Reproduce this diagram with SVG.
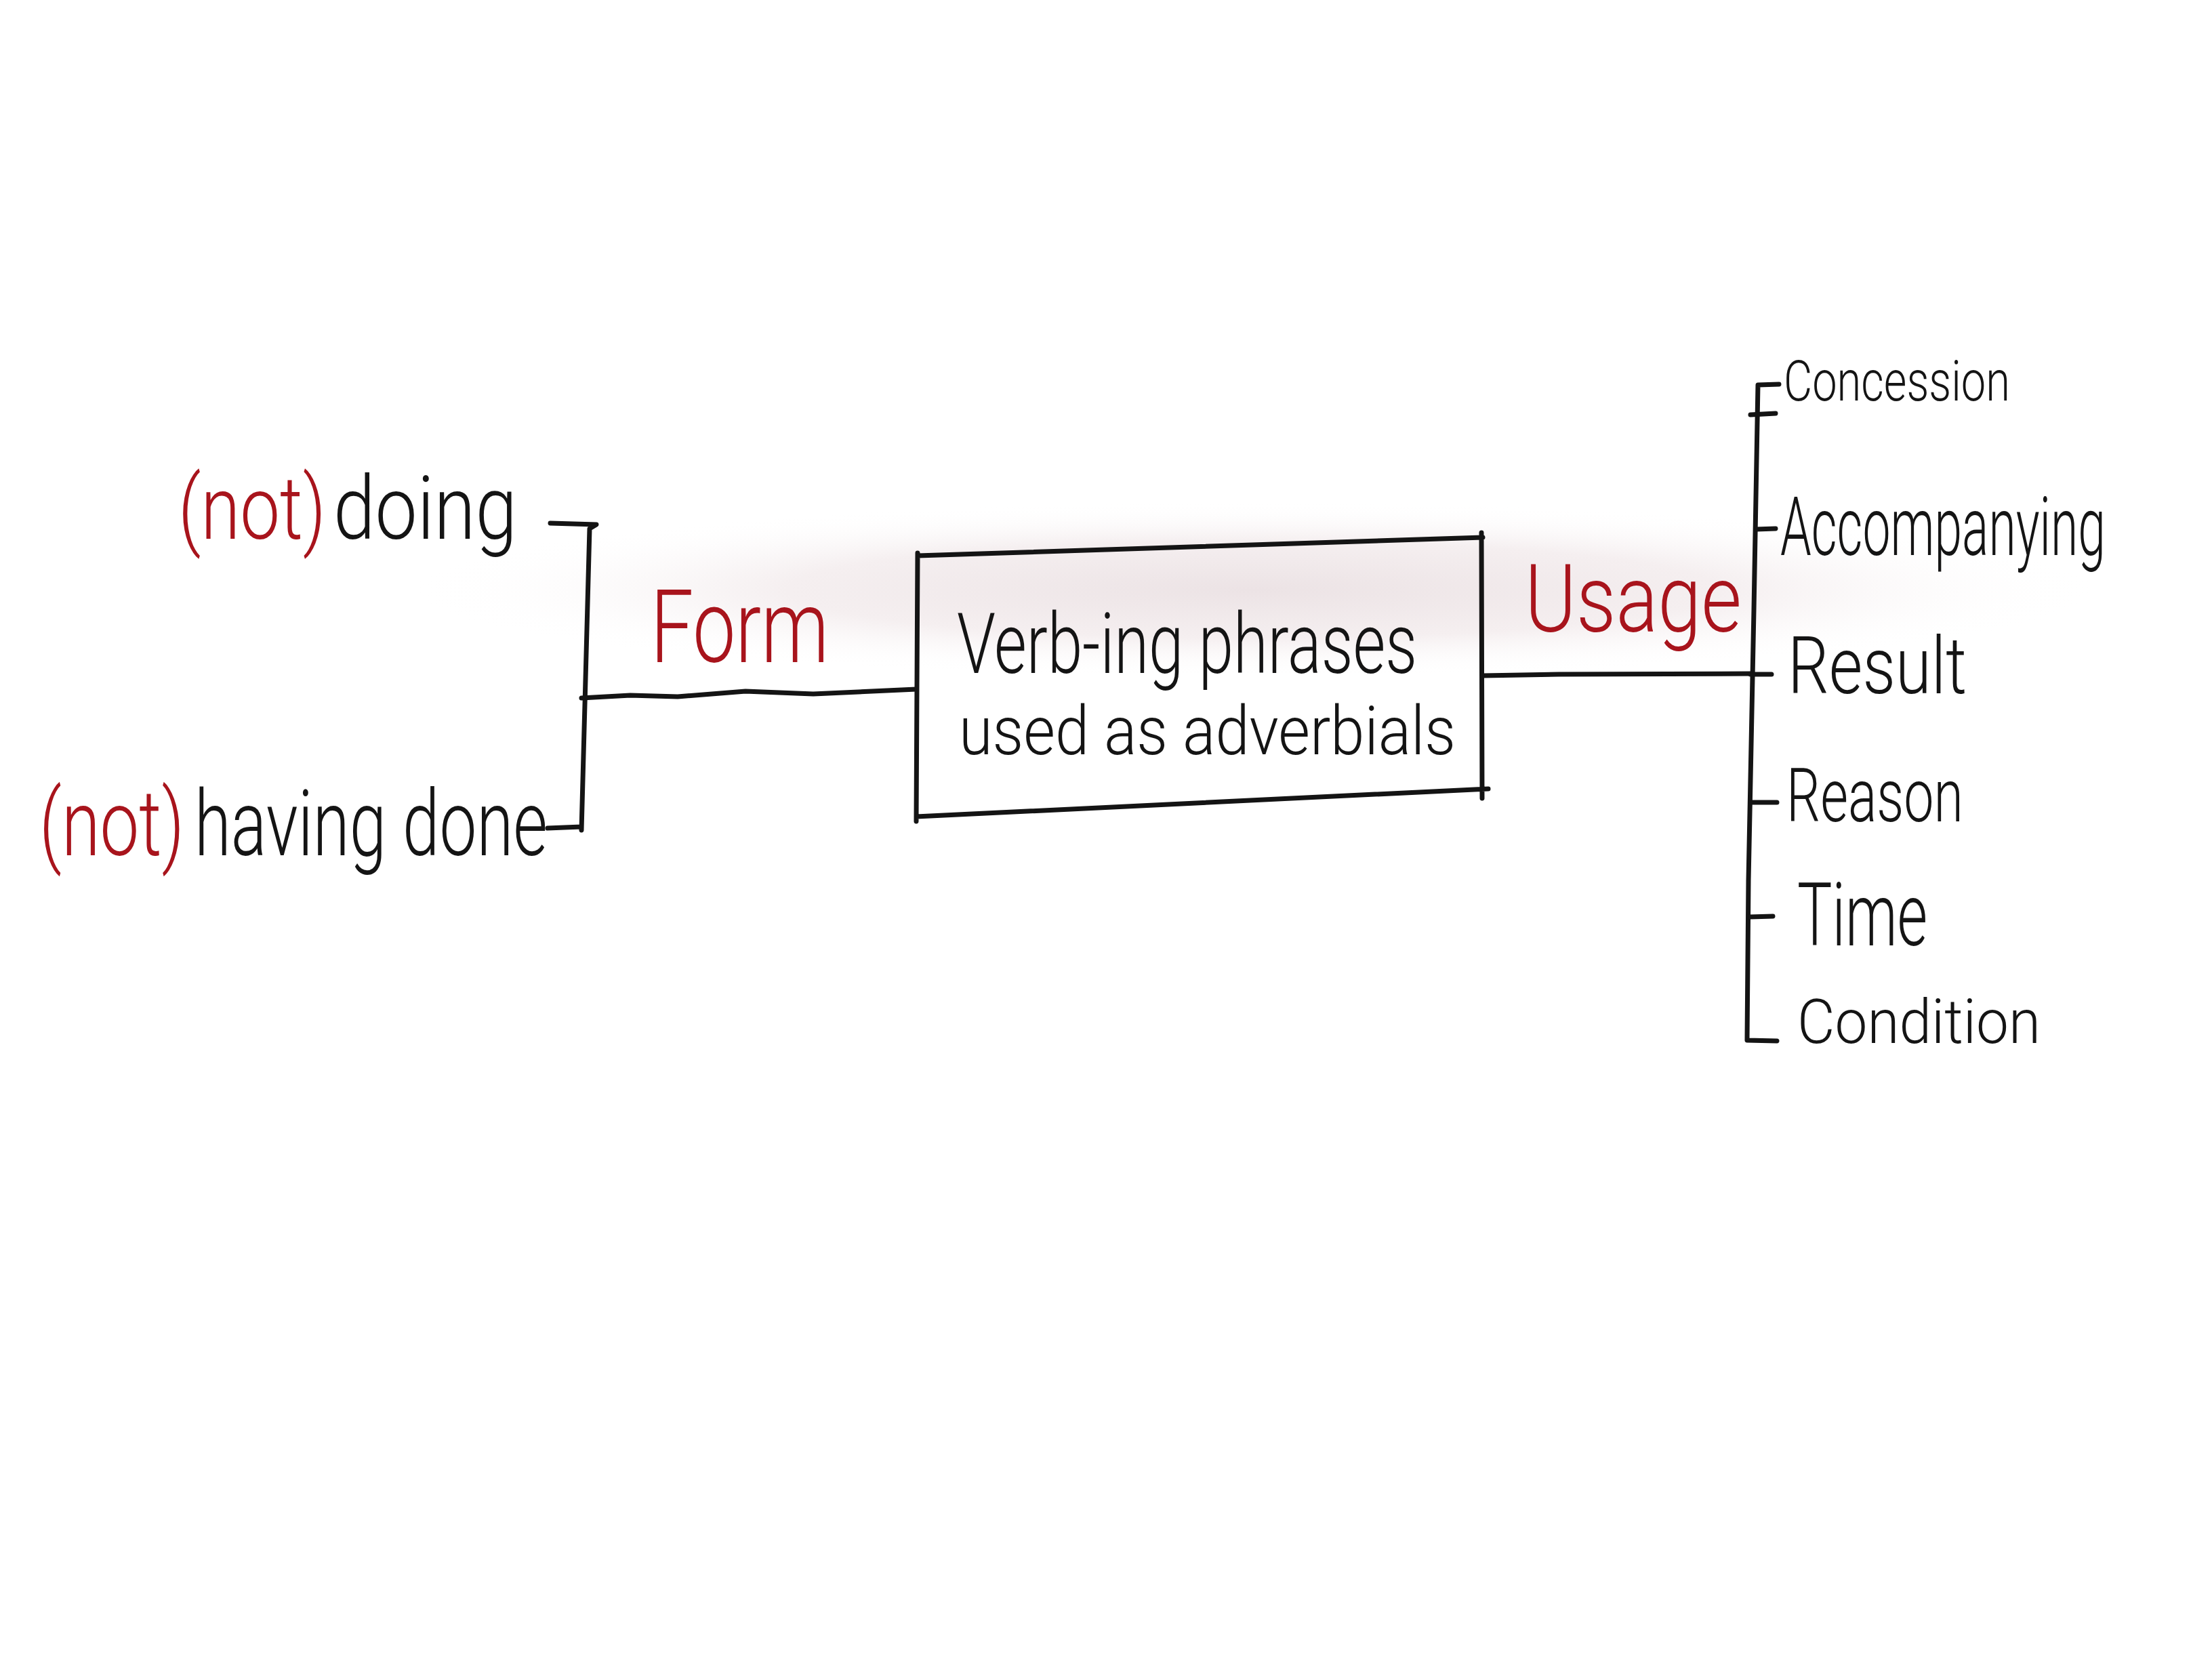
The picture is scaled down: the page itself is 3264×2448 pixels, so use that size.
<svg xmlns="http://www.w3.org/2000/svg" width="3264" height="2448" viewBox="0 0 3264 2448">
<defs>
<radialGradient id="band" cx="0.5" cy="0.5" r="0.5">
<stop offset="0" stop-color="#ece3e5"/>
<stop offset="0.55" stop-color="#f5eff0"/>
<stop offset="1" stop-color="#ffffff" stop-opacity="0"/>
</radialGradient>
</defs>
<style>
.ink{fill:none;stroke:#141414;stroke-width:7;stroke-linecap:round;stroke-linejoin:round}
.t{font-family:Roboto,"Liberation Sans",sans-serif;font-weight:300}
.k{fill:#141414}
.r{fill:#a8141c}
</style>
<rect width="3264" height="2448" fill="#ffffff"/>
<ellipse cx="1850" cy="870" rx="1250" ry="130" fill="url(#band)"/>
<g id="connectors">
<path class="ink" d="M812,772 L880,774 L870,780 L858,1225 M808,1222 L858,1220"/>
<path class="ink" d="M858,1030 L930,1026 L1000,1028 L1100,1020 L1200,1024 L1352,1017"/>
<path class="ink" d="M2188,997 L2300,995 L2584,994"/>
<path class="ink" d="M2625,567 L2594,568 L2588,900 L2580,1300 L2578,1535 L2622,1536"/>
<path class="ink" d="M2591,781 L2620,780 M2583,995 L2614,995 M2584,1184 L2622,1184 M2582,1353 L2616,1352"/>
<path class="ink" stroke-width="3" d="M2583,612 L2620,610"/>
</g>
<g id="node-center">
<path class="ink" d="M1354,820 L2188,793 M2186,786 L2187,1178 M2196,1164 L1352,1205 M1352,1212 L1354,816"/>
<text class="t k" x="1412" y="993" font-size="125" textLength="679" lengthAdjust="spacingAndGlyphs">Verb-ing phrases</text>
<text class="t k" x="1415" y="1113" font-size="100" textLength="733" lengthAdjust="spacingAndGlyphs">used as adverbials</text>
</g>
<g id="label-form">
<text class="t r" x="960" y="977" font-size="150" textLength="263" lengthAdjust="spacingAndGlyphs">Form</text>
</g>
<g id="label-usage">
<text class="t r" x="2250" y="932" font-size="140" textLength="320" lengthAdjust="spacingAndGlyphs">Usage</text>
</g>
<g id="node-doing">
<text class="t r" x="263" y="795" font-size="130" textLength="218" lengthAdjust="spacingAndGlyphs">(not)</text>
<text class="t k" x="492" y="795" font-size="130" textLength="271" lengthAdjust="spacingAndGlyphs">doing</text>
</g>
<g id="node-having-done">
<text class="t r" x="58" y="1262" font-size="135" textLength="214" lengthAdjust="spacingAndGlyphs">(not)</text>
<text class="t k" x="287" y="1262" font-size="135" textLength="521" lengthAdjust="spacingAndGlyphs">having done</text>
</g>
<g id="node-concession"><text class="t k" x="2632" y="591" font-size="84" textLength="334" lengthAdjust="spacingAndGlyphs">Concession</text></g>
<g id="node-accompanying"><text class="t k" x="2627" y="819" font-size="120" textLength="480" lengthAdjust="spacingAndGlyphs">Accompanying</text></g>
<g id="node-result"><text class="t k" x="2638" y="1023" font-size="116" textLength="264" lengthAdjust="spacingAndGlyphs">Result</text></g>
<g id="node-reason"><text class="t k" x="2636" y="1212" font-size="110" textLength="261" lengthAdjust="spacingAndGlyphs">Reason</text></g>
<g id="node-time"><text class="t k" x="2652" y="1395" font-size="130" textLength="192" lengthAdjust="spacingAndGlyphs">Time</text></g>
<g id="node-condition"><text class="t k" x="2652" y="1539" font-size="90" textLength="359" lengthAdjust="spacingAndGlyphs">Condition</text></g>
</svg>
